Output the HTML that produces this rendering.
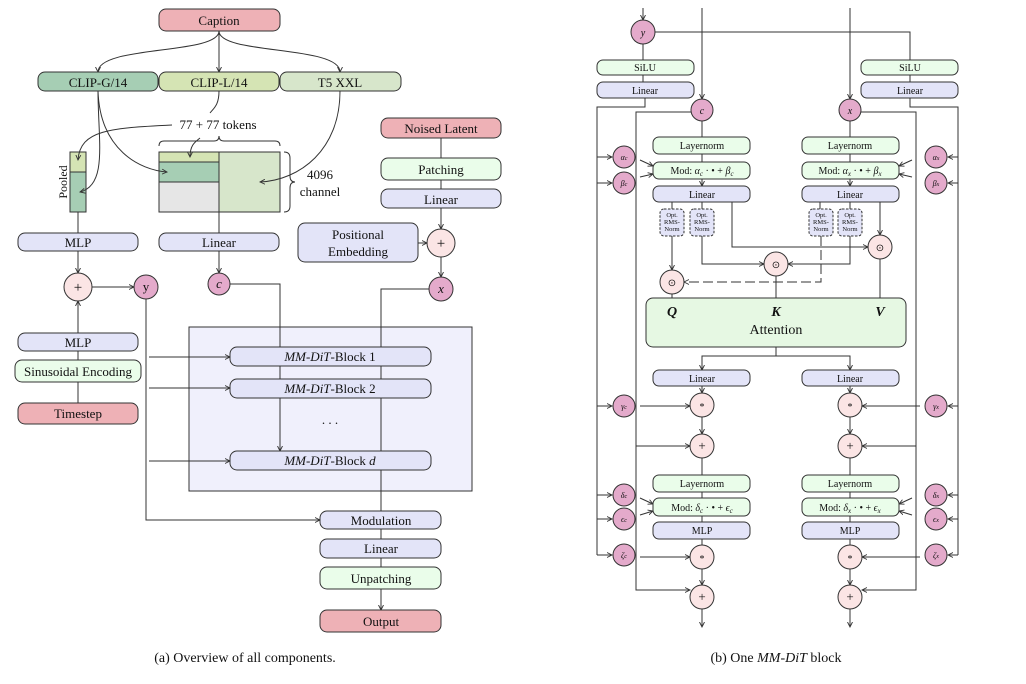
<!DOCTYPE html>
<html><head><meta charset="utf-8"><style>
html,body{margin:0;padding:0;background:#fff}
svg{display:block}
text{font-family:"Liberation Serif",serif;fill:#111}
.b{stroke:#333;stroke-width:1}
.l{stroke:#333;stroke-width:1;fill:none}
</style></head><body>
<svg width="1026" height="684" viewBox="0 0 1026 684" xmlns="http://www.w3.org/2000/svg">
<defs>
<marker id="a" markerWidth="6" markerHeight="6" refX="5" refY="3" orient="auto" markerUnits="userSpaceOnUse"><path d="M0,0.5 L5,3 L0,5.5" fill="none" stroke="#333" stroke-width="0.9"/></marker>
</defs>
<!-- LEFT PANEL -->
<g font-size="13" text-anchor="middle">
<!-- curves caption -->
<path class="l" d="M219,31 C219,55 98,45 98,72" marker-end="url(#a)"/>
<path class="l" d="M219,31 L219,72" marker-end="url(#a)"/>
<path class="l" d="M219,31 C219,55 340,45 340,72" marker-end="url(#a)"/>
<rect x="159" y="9" width="121" height="22" rx="7" fill="#eeb1b6" class="b"/><text x="219" y="25">Caption</text>
<rect x="38" y="72" width="120" height="19" rx="7" fill="#a6ceb4" class="b"/><text x="98" y="87">CLIP-G/14</text>
<rect x="159" y="72" width="120" height="19" rx="7" fill="#d5e4b4" class="b"/><text x="219" y="87">CLIP-L/14</text>
<rect x="280" y="72" width="121" height="19" rx="7" fill="#d7e6cb" class="b"/><text x="340" y="87">T5 XXL</text>
<!-- pooled & block -->
<rect x="70" y="152" width="16" height="20" fill="#d5e4b4" class="b"/>
<rect x="70" y="172" width="16" height="40" fill="#a6ceb4" class="b"/>
<text x="0" y="0" transform="translate(67,182) rotate(-90)" font-size="12">Pooled</text>
<rect x="159" y="152" width="60" height="10" fill="#d5e4b4" class="b"/>
<rect x="159" y="162" width="60" height="20" fill="#a6ceb4" class="b"/>
<rect x="159" y="182" width="60" height="30" fill="#e6e6e6" class="b"/>
<rect x="219" y="152" width="61" height="60" fill="#d7e6cb" class="b"/>
<path class="l" d="M98,91 C98,140 108,185 80,192" marker-end="url(#a)"/>
<path class="l" d="M98,91 C100,150 140,170 167,172" marker-end="url(#a)"/>
<path class="l" d="M340,91 C340,150 300,180 260,182" marker-end="url(#a)"/>
<path class="l" d="M219,91 C219,105 214,108 210,113"/>
<path class="l" d="M172,125 C110,128 80,130 78,160" marker-end="url(#a)"/>
<path class="l" d="M200,138 C195,142 190,145 190,157" marker-end="url(#a)"/>
<rect x="172" y="116" width="92" height="16" fill="#fff"/>
<text x="218" y="129">77 + 77 tokens</text>
<path class="l" d="M159,146 Q159,141 164,141 L214,141 Q219,141 219,136 Q219,141 224,141 L275,141 Q280,141 280,146"/>
<path class="l" d="M284,152 Q290,152 290,158 L290,176 Q290,182 295,182 Q290,182 290,188 L290,206 Q290,212 284,212"/>
<text x="320" y="179">4096</text><text x="320" y="196">channel</text>
<!-- lines -->
<path class="l" d="M78,212 V233"/><path class="l" d="M219,212 V233"/>
<path class="l" d="M78,251 V273" marker-end="url(#a)"/>
<path class="l" d="M219,251 V273" marker-end="url(#a)"/>
<path class="l" d="M92,287 H134" marker-end="url(#a)"/>
<path class="l" d="M78,333 V301" marker-end="url(#a)"/>
<path class="l" d="M78,351 V360 M78,382 V403"/>
<rect x="18" y="233" width="120" height="18" rx="7" fill="#e3e4f8" class="b"/><text x="78" y="247">MLP</text>
<rect x="159" y="233" width="120" height="18" rx="7" fill="#e3e4f8" class="b"/><text x="219" y="247">Linear</text>
<circle cx="78" cy="287" r="14" fill="#fbe5e5" class="b"/><text x="78" y="292" font-size="15">+</text>
<circle cx="146" cy="287" r="12" fill="#e4aacb" class="b"/><text x="146" y="291">y</text>
<circle cx="219" cy="284" r="11" fill="#e4aacb" class="b"/><text x="219" y="288" font-style="italic">c</text>
<rect x="18" y="333" width="120" height="18" rx="7" fill="#e3e4f8" class="b"/><text x="78" y="347">MLP</text>
<rect x="15" y="360" width="126" height="22" rx="7" fill="#eafdea" class="b"/><text x="78" y="376">Sinusoidal Encoding</text>
<rect x="18" y="403" width="120" height="21" rx="7" fill="#eeb1b6" class="b"/><text x="78" y="418">Timestep</text>
<!-- right side of panel a -->
<path class="l" d="M441,138 V158 M441,180 V189"/>
<path class="l" d="M441,208 V229" marker-end="url(#a)"/>
<path class="l" d="M418,243 H427" marker-end="url(#a)"/>
<path class="l" d="M441,257 V277" marker-end="url(#a)"/>
<rect x="381" y="118" width="120" height="20" rx="7" fill="#eeb1b6" class="b"/><text x="441" y="133">Noised Latent</text>
<rect x="381" y="158" width="120" height="22" rx="7" fill="#eafdea" class="b"/><text x="441" y="174">Patching</text>
<rect x="381" y="189" width="120" height="19" rx="7" fill="#e3e4f8" class="b"/><text x="441" y="204">Linear</text>
<rect x="298" y="223" width="120" height="39" rx="7" fill="#e3e4f8" class="b"/><text x="358" y="239">Positional</text><text x="358" y="256">Embedding</text>
<circle cx="441" cy="243" r="14" fill="#fbe5e5" class="b"/><text x="441" y="248" font-size="15">+</text>
<circle cx="441" cy="289" r="12" fill="#e4aacb" class="b"/><text x="441" y="293" font-style="italic">x</text>
<rect x="189" y="327" width="283" height="164" fill="#f0f0fc" class="b"/>
<path class="l" d="M230,284 H280 V347"/>
<path class="l" d="M280,366 V379 M280,398 V451" marker-end="url(#a)"/>
<path class="l" d="M429,289 H381 V511"/>
<path class="l" d="M146,299 V520 H320" marker-end="url(#a)"/>
<path class="l" d="M149,357 H230" marker-end="url(#a)"/>
<path class="l" d="M149,388 H230" marker-end="url(#a)"/>
<path class="l" d="M149,461 H230" marker-end="url(#a)"/>
<path class="l" d="M146,357 V461"/>
<rect x="230" y="347" width="201" height="19" rx="7" fill="#e3e4f8" class="b"/><text x="330" y="361"><tspan font-style="italic">MM-DiT</tspan>-Block 1</text>
<rect x="230" y="379" width="201" height="19" rx="7" fill="#e3e4f8" class="b"/><text x="330" y="393"><tspan font-style="italic">MM-DiT</tspan>-Block 2</text>
<text x="330" y="424">. . .</text>
<rect x="230" y="451" width="201" height="19" rx="7" fill="#e3e4f8" class="b"/><text x="330" y="465"><tspan font-style="italic">MM-DiT</tspan>-Block <tspan font-style="italic">d</tspan></text>
<path class="l" d="M381,470 V511 M381,529 V539 M381,558 V567"/>
<path class="l" d="M381,589 V610" marker-end="url(#a)"/>
<rect x="320" y="511" width="121" height="18" rx="7" fill="#e3e4f8" class="b"/><text x="381" y="525">Modulation</text>
<rect x="320" y="539" width="121" height="19" rx="7" fill="#e3e4f8" class="b"/><text x="381" y="553">Linear</text>
<rect x="320" y="567" width="121" height="22" rx="7" fill="#eafdea" class="b"/><text x="381" y="583">Unpatching</text>
<rect x="320" y="610" width="121" height="22" rx="7" fill="#eeb1b6" class="b"/><text x="381" y="626">Output</text>
<text x="245" y="662" font-size="14">(a) Overview of all components.</text>
</g>

<!-- RIGHT PANEL -->
<g font-size="10" text-anchor="middle">
<path class="l" d="M643,8 V20" marker-end="url(#a)"/>
<path class="l" d="M655,32 H910 V60"/>
<path class="l" d="M702,8 V99" marker-end="url(#a)"/>
<path class="l" d="M850,8 V99" marker-end="url(#a)"/>
<path class="l" d="M643,44 V60 M643,75 V82"/>
<path class="l" d="M910,75 V82"/>
<path class="l" d="M645,98 V107 H597 V555"/>
<path class="l" d="M910,98 V107 H958 V555"/>
<path class="l" d="M691,112 H636 V590 H690" marker-end="url(#a)"/>
<path class="l" d="M636,446 H690" marker-end="url(#a)"/>
<path class="l" d="M861,112 H916 V590 H862" marker-end="url(#a)"/>
<path class="l" d="M916,446 H862" marker-end="url(#a)"/>
<rect x="597" y="60" width="97" height="15" rx="6" fill="#eafdea" class="b"/><text x="645" y="71">SiLU</text>
<rect x="597" y="82" width="97" height="16" rx="6" fill="#e3e4f8" class="b"/><text x="645" y="94">Linear</text>
<rect x="861" y="60" width="97" height="15" rx="6" fill="#eafdea" class="b"/><text x="910" y="71">SiLU</text>
<rect x="861" y="82" width="97" height="16" rx="6" fill="#e3e4f8" class="b"/><text x="910" y="94">Linear</text>
<circle cx="643" cy="32" r="12" fill="#e4aacb" class="b"/><text x="643" y="36" font-style="italic">y</text>
<circle cx="702" cy="110" r="11" fill="#e4aacb" class="b"/><text x="702" y="114" font-style="italic">c</text>
<circle cx="850" cy="110" r="11" fill="#e4aacb" class="b"/><text x="850" y="114" font-style="italic">x</text>
<!-- branch left column -->
<path class="l" d="M702,121 V137 M702,154 V162"/>
<path class="l" d="M702,179 V186" marker-end="url(#a)"/>
<path class="l" d="M850,121 V137 M850,154 V162"/>
<path class="l" d="M850,179 V186" marker-end="url(#a)"/>
<!-- modulation inputs -->
<path class="l" d="M597,157 H612" marker-end="url(#a)"/><path class="l" d="M597,183 H612" marker-end="url(#a)"/>
<path class="l" d="M958,157 H948" marker-end="url(#a)"/><path class="l" d="M958,183 H948" marker-end="url(#a)"/>
<path class="l" d="M640,160 L653,166" marker-end="url(#a)"/><path class="l" d="M640,177 L653,174" marker-end="url(#a)"/>
<path class="l" d="M912,160 L899,166" marker-end="url(#a)"/><path class="l" d="M912,177 L899,174" marker-end="url(#a)"/>
<rect x="653" y="137" width="97" height="17" rx="6" fill="#eafdea" class="b"/><text x="702" y="149">Layernorm</text>
<rect x="653" y="162" width="97" height="17" rx="6" fill="#eafdea" class="b"/><text x="702" y="174">Mod: <tspan font-style="italic">α<tspan font-size="7" dy="2">c</tspan></tspan><tspan dy="-2"> · • + </tspan><tspan font-style="italic">β<tspan font-size="7" dy="2">c</tspan></tspan></text>
<rect x="653" y="186" width="97" height="16" rx="6" fill="#e3e4f8" class="b"/><text x="702" y="198">Linear</text>
<rect x="802" y="137" width="97" height="17" rx="6" fill="#eafdea" class="b"/><text x="850" y="149">Layernorm</text>
<rect x="802" y="162" width="97" height="17" rx="6" fill="#eafdea" class="b"/><text x="850" y="174">Mod: <tspan font-style="italic">α<tspan font-size="7" dy="2">x</tspan></tspan><tspan dy="-2"> · • + </tspan><tspan font-style="italic">β<tspan font-size="7" dy="2">x</tspan></tspan></text>
<rect x="802" y="186" width="97" height="16" rx="6" fill="#e3e4f8" class="b"/><text x="850" y="198">Linear</text>
<circle cx="624" cy="157" r="11" fill="#e4aacb" class="b"/><text x="624" y="160" font-size="8" font-style="italic">α<tspan font-size="6">c</tspan></text>
<circle cx="624" cy="183" r="11" fill="#e4aacb" class="b"/><text x="624" y="186" font-size="8" font-style="italic">β<tspan font-size="6">c</tspan></text>
<circle cx="936" cy="157" r="11" fill="#e4aacb" class="b"/><text x="936" y="160" font-size="8" font-style="italic">α<tspan font-size="6">x</tspan></text>
<circle cx="936" cy="183" r="11" fill="#e4aacb" class="b"/><text x="936" y="186" font-size="8" font-style="italic">β<tspan font-size="6">x</tspan></text>
<!-- QKV routing -->
<path class="l" d="M672,202 V209 M702,202 V209 M820,202 V209 M850,202 V209"/>
<path class="l" d="M672,236 V270" marker-end="url(#a)"/>
<path class="l" d="M702,236 V264 H764" marker-end="url(#a)"/>
<path class="l" d="M850,236 V264 H788" marker-end="url(#a)"/>
<path class="l" d="M821,236 V282 H684" marker-end="url(#a)" stroke-dasharray="10,4"/>
<path class="l" d="M732,202 V247 H868" marker-end="url(#a)"/>
<path class="l" d="M880,202 V235" marker-end="url(#a)"/>
<path class="l" d="M672,294 V298 M776,276 V298 M880,259 V298"/>
<g font-size="6.5" fill="#111">
<rect x="660" y="209" width="24" height="27" rx="4" fill="#e3e4f8" stroke="#333" stroke-dasharray="2.5,1.5"/><text x="672" y="217" font-size="6.5">Opt.</text><text x="672" y="224" font-size="6.5">RMS-</text><text x="672" y="231" font-size="6.5">Norm</text>
<rect x="690" y="209" width="24" height="27" rx="4" fill="#e3e4f8" stroke="#333" stroke-dasharray="2.5,1.5"/><text x="702" y="217" font-size="6.5">Opt.</text><text x="702" y="224" font-size="6.5">RMS-</text><text x="702" y="231" font-size="6.5">Norm</text>
<rect x="809" y="209" width="24" height="27" rx="4" fill="#e3e4f8" stroke="#333" stroke-dasharray="2.5,1.5"/><text x="821" y="217" font-size="6.5">Opt.</text><text x="821" y="224" font-size="6.5">RMS-</text><text x="821" y="231" font-size="6.5">Norm</text>
<rect x="838" y="209" width="24" height="27" rx="4" fill="#e3e4f8" stroke="#333" stroke-dasharray="2.5,1.5"/><text x="850" y="217" font-size="6.5">Opt.</text><text x="850" y="224" font-size="6.5">RMS-</text><text x="850" y="231" font-size="6.5">Norm</text>
</g>
<circle cx="672" cy="282" r="12" fill="#fbe5e5" class="b"/><text x="672" y="286">⊙</text>
<circle cx="776" cy="264" r="12" fill="#fbe5e5" class="b"/><text x="776" y="268">⊙</text>
<circle cx="880" cy="247" r="12" fill="#fbe5e5" class="b"/><text x="880" y="251">⊙</text>
<rect x="646" y="298" width="260" height="49" rx="7" fill="#e6f8e3" class="b"/>
<text x="672" y="316" font-size="14" font-style="italic" font-weight="bold">Q</text>
<text x="776" y="316" font-size="14" font-style="italic" font-weight="bold">K</text>
<text x="880" y="316" font-size="14" font-style="italic" font-weight="bold">V</text>
<text x="776" y="334" font-size="14">Attention</text>
<path class="l" d="M776,347 V356 H702 V370" marker-end="url(#a)"/>
<path class="l" d="M776,356 H850 V370" marker-end="url(#a)"/>
<!-- lower columns -->
<g>
<path class="l" d="M702,386 V393" marker-end="url(#a)"/>
<path class="l" d="M702,417 V434" marker-end="url(#a)"/>
<path class="l" d="M702,458 V475 M702,492 V498"/>
<path class="l" d="M702,516 V522 M702,539 V545"/>
<path class="l" d="M702,569 V585" marker-end="url(#a)"/>
<path class="l" d="M702,609 V627" marker-end="url(#a)"/>
<path class="l" d="M850,386 V393" marker-end="url(#a)"/>
<path class="l" d="M850,417 V434" marker-end="url(#a)"/>
<path class="l" d="M850,458 V475 M850,492 V498"/>
<path class="l" d="M850,516 V522 M850,539 V545"/>
<path class="l" d="M850,569 V585" marker-end="url(#a)"/>
<path class="l" d="M850,609 V627" marker-end="url(#a)"/>
</g>
<path class="l" d="M597,406 H612" marker-end="url(#a)"/><path class="l" d="M597,495 H612" marker-end="url(#a)"/><path class="l" d="M597,519 H612" marker-end="url(#a)"/><path class="l" d="M597,555 H612" marker-end="url(#a)"/>
<path class="l" d="M958,406 H948" marker-end="url(#a)"/><path class="l" d="M958,495 H948" marker-end="url(#a)"/><path class="l" d="M958,519 H948" marker-end="url(#a)"/><path class="l" d="M958,555 H948" marker-end="url(#a)"/>
<path class="l" d="M640,406 H690" marker-end="url(#a)"/><path class="l" d="M640,557 H690" marker-end="url(#a)"/>
<path class="l" d="M920,406 H862" marker-end="url(#a)"/><path class="l" d="M920,557 H862" marker-end="url(#a)"/>
<path class="l" d="M640,498 L653,504" marker-end="url(#a)"/><path class="l" d="M640,515 L653,511" marker-end="url(#a)"/>
<path class="l" d="M912,498 L899,504" marker-end="url(#a)"/><path class="l" d="M912,515 L899,511" marker-end="url(#a)"/>
<rect x="653" y="370" width="97" height="16" rx="6" fill="#e3e4f8" class="b"/><text x="702" y="382">Linear</text>
<rect x="802" y="370" width="97" height="16" rx="6" fill="#e3e4f8" class="b"/><text x="850" y="382">Linear</text>
<rect x="653" y="475" width="97" height="17" rx="6" fill="#eafdea" class="b"/><text x="702" y="487">Layernorm</text>
<rect x="802" y="475" width="97" height="17" rx="6" fill="#eafdea" class="b"/><text x="850" y="487">Layernorm</text>
<rect x="653" y="498" width="97" height="18" rx="6" fill="#eafdea" class="b"/><text x="702" y="511">Mod: <tspan font-style="italic">δ<tspan font-size="7" dy="2">c</tspan></tspan><tspan dy="-2"> · • + </tspan><tspan font-style="italic">ϵ<tspan font-size="7" dy="2">c</tspan></tspan></text>
<rect x="802" y="498" width="97" height="18" rx="6" fill="#eafdea" class="b"/><text x="850" y="511">Mod: <tspan font-style="italic">δ<tspan font-size="7" dy="2">x</tspan></tspan><tspan dy="-2"> · • + </tspan><tspan font-style="italic">ϵ<tspan font-size="7" dy="2">x</tspan></tspan></text>
<rect x="653" y="522" width="97" height="17" rx="6" fill="#e3e4f8" class="b"/><text x="702" y="534">MLP</text>
<rect x="802" y="522" width="97" height="17" rx="6" fill="#e3e4f8" class="b"/><text x="850" y="534">MLP</text>
<g>
<circle cx="702" cy="405" r="12" fill="#fbe5e5" class="b"/><text x="702" y="410">*</text>
<circle cx="702" cy="446" r="12" fill="#fbe5e5" class="b"/><text x="702" y="450" font-size="13">+</text>
<circle cx="702" cy="557" r="12" fill="#fbe5e5" class="b"/><text x="702" y="562">*</text>
<circle cx="702" cy="597" r="12" fill="#fbe5e5" class="b"/><text x="702" y="601" font-size="13">+</text>
<circle cx="850" cy="405" r="12" fill="#fbe5e5" class="b"/><text x="850" y="410">*</text>
<circle cx="850" cy="446" r="12" fill="#fbe5e5" class="b"/><text x="850" y="450" font-size="13">+</text>
<circle cx="850" cy="557" r="12" fill="#fbe5e5" class="b"/><text x="850" y="562">*</text>
<circle cx="850" cy="597" r="12" fill="#fbe5e5" class="b"/><text x="850" y="601" font-size="13">+</text>
</g>
<g font-size="8" font-style="italic">
<circle cx="624" cy="406" r="11" fill="#e4aacb" class="b"/><text x="624" y="409">γ<tspan font-size="6">c</tspan></text>
<circle cx="624" cy="495" r="11" fill="#e4aacb" class="b"/><text x="624" y="498">δ<tspan font-size="6">c</tspan></text>
<circle cx="624" cy="519" r="11" fill="#e4aacb" class="b"/><text x="624" y="522">ϵ<tspan font-size="6">c</tspan></text>
<circle cx="624" cy="555" r="11" fill="#e4aacb" class="b"/><text x="624" y="558">ζ<tspan font-size="6">c</tspan></text>
<circle cx="936" cy="406" r="11" fill="#e4aacb" class="b"/><text x="936" y="409">γ<tspan font-size="6">x</tspan></text>
<circle cx="936" cy="495" r="11" fill="#e4aacb" class="b"/><text x="936" y="498">δ<tspan font-size="6">x</tspan></text>
<circle cx="936" cy="519" r="11" fill="#e4aacb" class="b"/><text x="936" y="522">ϵ<tspan font-size="6">x</tspan></text>
<circle cx="936" cy="555" r="11" fill="#e4aacb" class="b"/><text x="936" y="558">ζ<tspan font-size="6">x</tspan></text>
</g>
<text x="776" y="662" font-size="14">(b) One <tspan font-style="italic">MM-DiT</tspan> block</text>
</g>
</svg>
</body></html>
